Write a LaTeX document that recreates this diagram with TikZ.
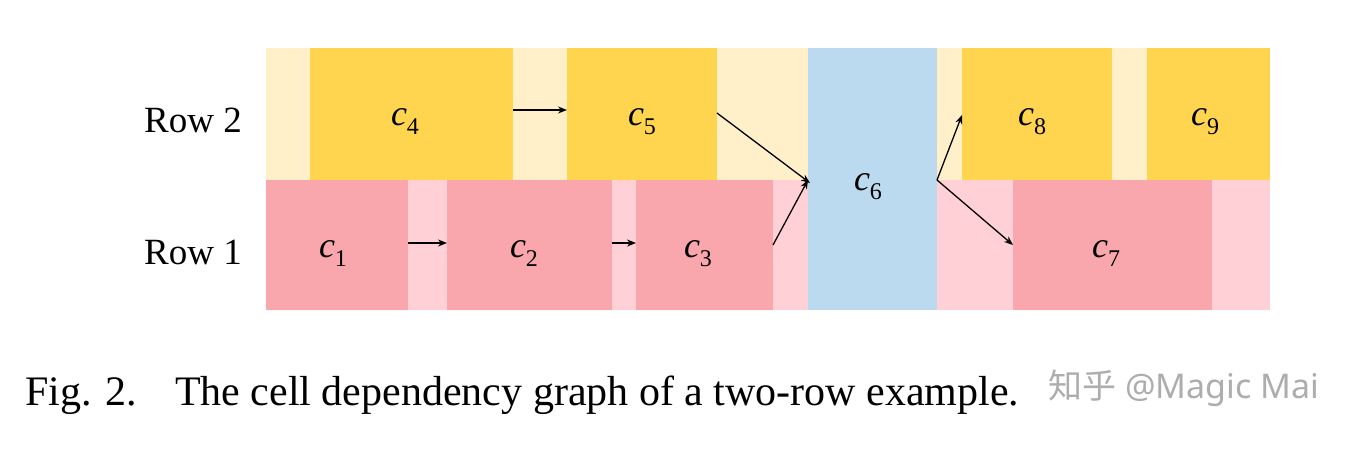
\documentclass[tikz,border=0pt]{standalone}
\usepackage{fontspec}
\setmainfont{Liberation Serif}
\newfontfamily\cjkf{Noto Sans CJK SC}
\newfontfamily\wmf{Noto Sans}
\newfontfamily\lblf{DejaVu Serif}
\usetikzlibrary{arrows.meta}
\definecolor{ylight}{HTML}{FFF0CA}
\definecolor{ydark}{HTML}{FFD54F}
\definecolor{plight}{HTML}{FFD1D6}
\definecolor{pdark}{HTML}{F9A7AD}
\definecolor{blu}{HTML}{BBD9EF}
\newcommand{\cl}[1]{{\itshape c}\raisebox{-0.25em}{\fontsize{24}{26}\selectfont #1}}
\begin{document}
\begin{tikzpicture}[x=1pt,y=-1pt,
  cell/.style={inner sep=0,font=\fontsize{36}{38}\selectfont},
  arr/.style={-{Stealth[length=9pt,width=7pt]},line width=1.3pt}]
\useasboundingbox (0,0) rectangle (1350,450);
\fill[white] (0,0) rectangle (1350,450);
\fill[ylight] (266,48) rectangle (1270,180);
\fill[plight] (266,180) rectangle (1270,310);
\fill[blu] (808,48) rectangle (937,310);
\foreach \a/\b in {310/513,567/717,962/1112,1147/1270}{\fill[ydark] (\a,48) rectangle (\b,180);}
\foreach \a/\b in {266/408,447/612,636/773,1013/1212}{\fill[pdark] (\a,180) rectangle (\b,310);}
\node[cell] (c4) at (405,122) {\cl{4}};
\node[cell] (c5) at (642,122) {\cl{5}};
\node[cell] (c8) at (1032,122) {\cl{8}};
\node[cell] (c9) at (1205,122) {\cl{9}};
\node[cell] (c1) at (333,254) {\cl{1}};
\node[cell] (c2) at (524,254) {\cl{2}};
\node[cell] (c3) at (698,254) {\cl{3}};
\node[cell] (c7) at (1106,254) {\cl{7}};
\node[cell] (c6) at (868,187) {\cl{6}};
\coordinate (a1) at (513,110); \coordinate (b1) at (567,110);
\coordinate (a2) at (717,113); \coordinate (b2) at (810,183);
\coordinate (a3) at (408,243); \coordinate (b3) at (447,243);
\coordinate (a4) at (612,243); \coordinate (b4) at (636,243);
\coordinate (a5) at (773,245); \coordinate (b5) at (808,180);
\coordinate (a6) at (937,180); \coordinate (b6) at (962,115);
\coordinate (b7) at (1013,245);
\draw[arr] (a1)--(b1); \draw[arr] (a2)--(b2); \draw[arr] (a3)--(b3);
\draw[arr] (a4)--(b4); \draw[arr] (a5)--(b5); \draw[arr] (a6)--(b6);
\draw[arr] (a6)--(b7);
\node[font=\fontsize{37}{38}\selectfont] (r2) at (193,120) {Row 2};
\node[font=\fontsize{37}{38}\selectfont] (r1) at (193,252) {Row 1};
\node[anchor=west,font=\fontsize{42}{44}\selectfont,inner sep=0] (cap) at (25,395) {Fig. 2.\hspace{0.9em}The cell dependency graph of a two-row example.};
\node[anchor=west,text=black!40,font=\fontsize{34}{36}\selectfont,opacity=0.8] (wm) at (1045,388) {{\cjkf 知乎} {\wmf @Magic Mai}};
\end{tikzpicture}
\end{document}
